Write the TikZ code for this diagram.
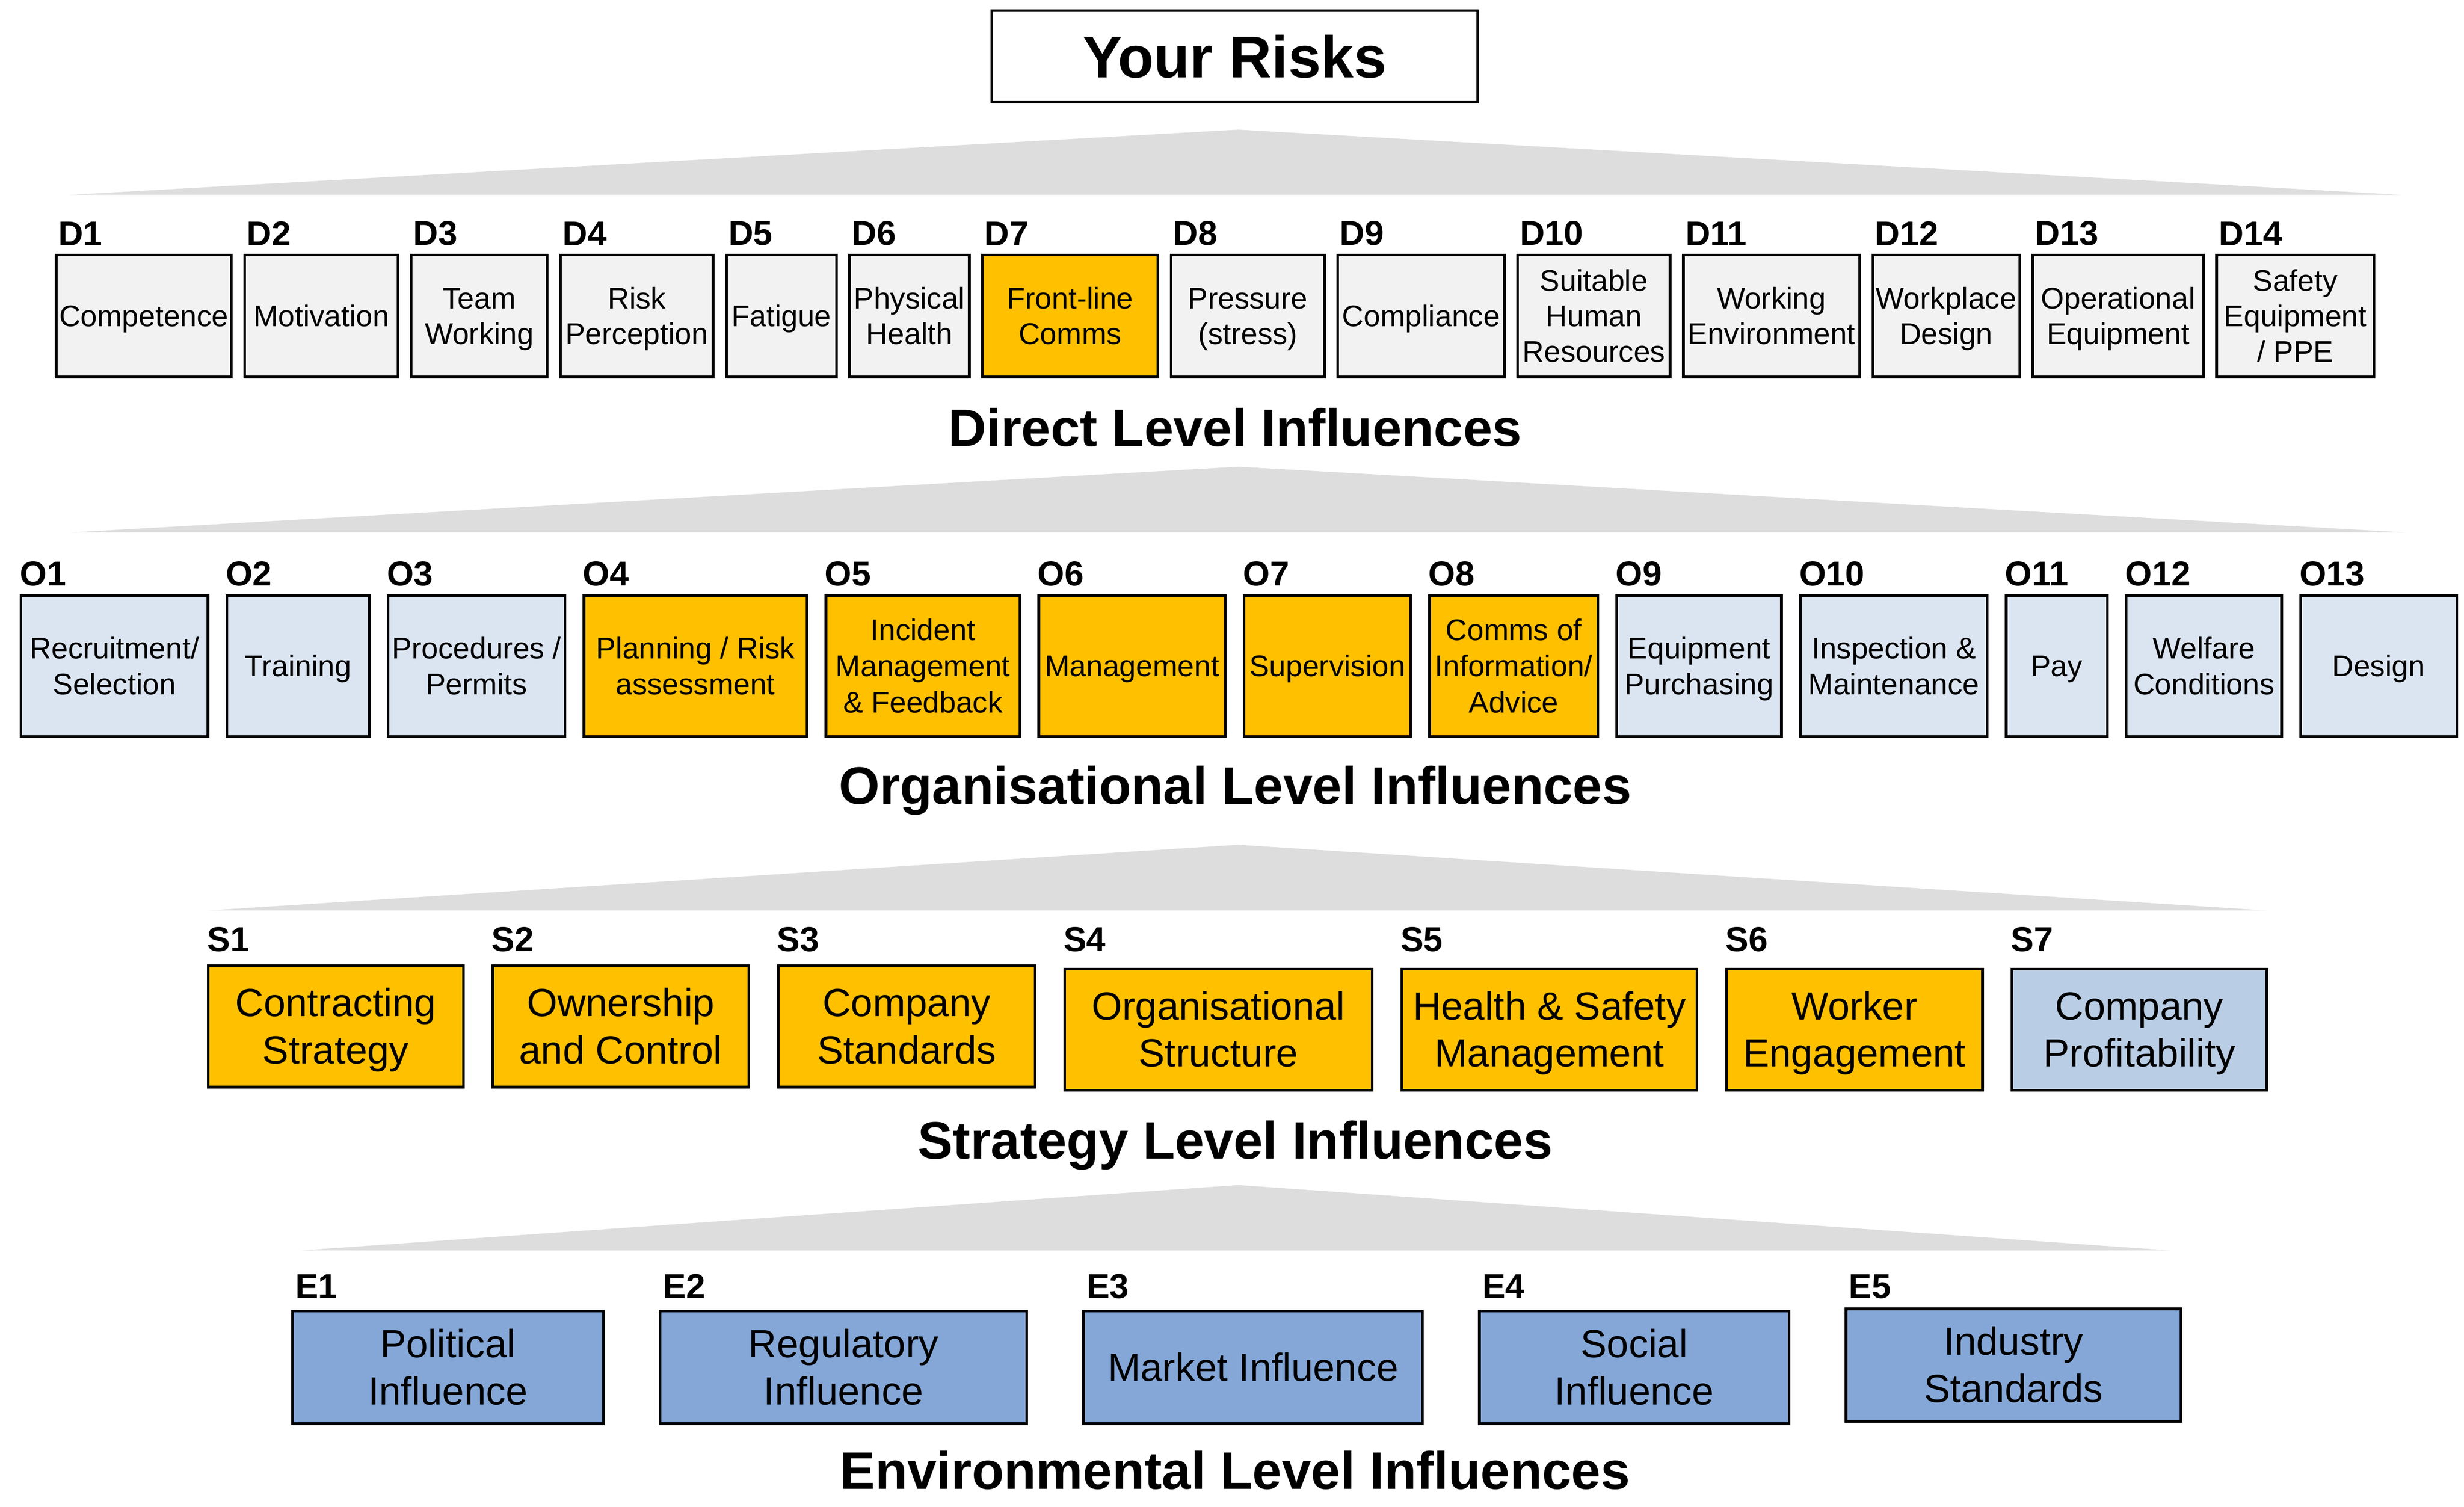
\documentclass[tikz,border=0pt]{standalone}
\usepackage{fontspec}
\setmainfont{Liberation Sans}
\usepackage{xcolor}
\usepackage{tikz}
\usetikzlibrary{positioning}
\definecolor{boxgray}{HTML}{F2F2F2}
\definecolor{boxorange}{HTML}{FFC000}
\definecolor{paleblue}{HTML}{DBE5F1}
\definecolor{midblue}{HTML}{B9CDE5}
\definecolor{deepblue}{HTML}{84A7D7}
\definecolor{wedgegray}{HTML}{DDDDDD}
\newcommand{\linestrut}{\rule[-0.212em]{0pt}{1.117em}}
\newcommand{\cellbreak}{\linestrut\\\linestrut}

\begin{document}
\begin{tikzpicture}[
        x=1pt, y=-1pt,
        every node/.style={align=center, inner sep=0pt},
        box/.style={rectangle, draw, line width=1.7pt},
        cell/.style={box, execute at begin node=\linestrut, execute at end node=\linestrut},
        direct/.style={cell, node distance=6.7pt, fill=boxgray, minimum height=77.6pt, font=\fontsize{19}{22.5}\selectfont},
        organ/.style={cell, node distance=10.3pt, fill=paleblue, minimum height=89.7pt, font=\fontsize{19}{23}\selectfont},
        strat/.style={cell, node distance=17pt, fill=boxorange, minimum height=77.1pt, font=\fontsize{25}{30}\selectfont},
        envir/.style={cell, node distance=34.5pt, fill=deepblue, minimum height=71.6pt, font=\fontsize{25}{30}\selectfont},
        tag/.style={font=\fontsize{22}{22}\selectfont\bfseries, anchor=south west},
        dtag/.style={tag, xshift=2pt, yshift=5pt},
        otag/.style={tag, yshift=5.2pt},
        stag/.style={tag, yshift=8pt},
        etag/.style={tag, xshift=2.5pt, yshift=7pt},
        heading/.style={font=\fontsize{33.5}{33.5}\selectfont\bfseries, anchor=base},
        wedge/.style={fill=wedgegray}
    ]
    \useasboundingbox (0,0) rectangle (1568,958.9);

    % Top box
    \node[box, minimum width=309.2pt, minimum height=58.5pt, font=\fontsize{37.5}{37.5}\selectfont\bfseries] (risks) at (785.8,35.9) {Your Risks};

    % Wedges
    \fill[wedge] (44,124) -- (788,82.5) -- (1528.5,124) -- cycle;
    \fill[wedge] (45,338.8) -- (788,297) -- (1531,338.8) -- cycle;
    \fill[wedge] (133.4,579.3) -- (788,537.6) -- (1441.4,579.3) -- cycle;
    \fill[wedge] (191.6,795.7) -- (788,754.1) -- (1381,795.7) -- cycle;

    % Direct level
    \node[direct, minimum width=111.6pt, label={[dtag]north west:D1}] (d1) at (91.5,201.1) {Competence};
    \node[direct, minimum width=97.6pt, right=of d1, label={[dtag]north west:D2}] (d2) {Motivation};
    \node[direct, minimum width=86.6pt, right=of d2, label={[dtag]north west:D3}] (d3) {Team\cellbreak Working};
    \node[direct, minimum width=97.1pt, right=of d3, label={[dtag]north west:D4}] (d4) {Risk\cellbreak Perception};
    \node[direct, minimum width=70.1pt, right=of d4, label={[dtag]north west:D5}] (d5) {Fatigue};
    \node[direct, minimum width=76.1pt, right=of d5, label={[dtag]north west:D6}] (d6) {Physical\cellbreak Health};
    \node[direct, minimum width=111.6pt, fill=boxorange, right=of d6, label={[dtag]north west:D7}] (d7) {Front-line\cellbreak Comms};
    \node[direct, minimum width=97.7pt, right=of d7, label={[dtag]north west:D8}] (d8) {Pressure\cellbreak (stress)};
    \node[direct, minimum width=106.1pt, right=of d8, label={[dtag]north west:D9}] (d9) {Compliance};
    \node[direct, minimum width=97pt, right=of d9, label={[dtag]north west:D10}] (d10) {Suitable\cellbreak Human\cellbreak Resources};
    \node[direct, minimum width=112.2pt, right=of d10, label={[dtag]north west:D11}] (d11) {Working\cellbreak Environment};
    \node[direct, minimum width=93.4pt, right=of d11, label={[dtag]north west:D12}] (d12) {Workplace\cellbreak Design};
    \node[direct, minimum width=108.6pt, right=of d12, label={[dtag]north west:D13}] (d13) {Operational\cellbreak Equipment};
    \node[direct, minimum width=100.1pt, right=of d13, label={[dtag]north west:D14}] (d14) {Safety\cellbreak Equipment\cellbreak / PPE};
    \node[heading] (tdirect) at (786,284) {Direct Level Influences};

    % Organisational level
    \node[organ, minimum width=119pt, label={[otag]north west:O1}] (o1) at (72.85,423.9) {Recruitment/\cellbreak Selection};
    \node[organ, minimum width=90.6pt, right=of o1, label={[otag]north west:O2}] (o2) {Training};
    \node[organ, minimum width=112.6pt, right=of o2, label={[otag]north west:O3}] (o3) {Procedures /\cellbreak Permits};
    \node[organ, minimum width=142pt, fill=boxorange, right=of o3, label={[otag]north west:O4}] (o4) {Planning / Risk\cellbreak assessment};
    \node[organ, minimum width=123.5pt, fill=boxorange, right=of o4, label={[otag]north west:O5}] (o5) {Incident\cellbreak Management\cellbreak \& Feedback};
    \node[organ, minimum width=118.7pt, fill=boxorange, right=of o5, label={[otag]north west:O6}] (o6) {Management};
    \node[organ, minimum width=106pt, fill=boxorange, right=of o6, label={[otag]north west:O7}] (o7) {Supervision};
    \node[organ, minimum width=107pt, fill=boxorange, right=of o7, label={[otag]north west:O8}] (o8) {Comms of\cellbreak Information/\cellbreak Advice};
    \node[organ, minimum width=104.9pt, right=of o8, label={[otag]north west:O9}] (o9) {Equipment\cellbreak Purchasing};
    \node[organ, minimum width=119pt, right=of o9, label={[otag]north west:O10}] (o10) {Inspection \&\cellbreak Maintenance};
    \node[organ, minimum width=64.4pt, right=of o10, label={[otag]north west:O11}] (o11) {Pay};
    \node[organ, minimum width=98.9pt, right=of o11, label={[otag]north west:O12}] (o12) {Welfare\cellbreak Conditions};
    \node[organ, minimum width=99.4pt, right=of o12, label={[otag]north west:O13}] (o13) {Design};
    \node[heading] (torgan) at (786,511.5) {Organisational Level Influences};

    % Strategy level
    \node[strat, minimum width=162.4pt, label={[stag]north west:S1}] (s1) at (213.65,653.2) {Contracting\cellbreak Strategy};
    \node[strat, minimum width=162.9pt, right=of s1, label={[stag]north west:S2}] (s2) {Ownership\cellbreak and Control};
    \node[strat, minimum width=163.6pt, right=of s2, label={[stag]north west:S3}] (s3) {Company\cellbreak Standards};
    \node[strat, minimum width=195.8pt, right=of s3, yshift=-2pt, label={[stag, yshift=2pt]north west:S4}] (s4) {Organisational\cellbreak Structure};
    \node[strat, minimum width=188pt, right=of s4, label={[stag, yshift=2pt]north west:S5}] (s5) {Health \& Safety\cellbreak Management};
    \node[strat, minimum width=162.9pt, right=of s5, label={[stag, yshift=2pt]north west:S6}] (s6) {Worker\cellbreak Engagement};
    \node[strat, minimum width=162.3pt, fill=midblue, right=of s6, label={[stag, yshift=2pt]north west:S7}] (s7) {Company\cellbreak Profitability};
    \node[heading] (tstrat) at (786,737.3) {Strategy Level Influences};

    % Environmental level
    \node[envir, minimum width=197.9pt, label={[etag]north west:E1}] (e1) at (285,870.15) {Political\cellbreak Influence};
    \node[envir, minimum width=233.3pt, right=of e1, label={[etag]north west:E2}] (e2) {Regulatory\cellbreak Influence};
    \node[envir, minimum width=215.6pt, right=of e2, label={[etag]north west:E3}] (e3) {Market Influence};
    \node[envir, minimum width=197.1pt, right=of e3, label={[etag]north west:E4}] (e4) {Social\cellbreak Influence};
    \node[envir, minimum width=213.1pt, right=of e4, yshift=1.5pt, label={[etag, yshift=-1.5pt]north west:E5}] (e5) {Industry\cellbreak Standards};
    \node[heading] (tenvir) at (786,947.5) {Environmental Level Influences};

\end{tikzpicture}
\end{document}
